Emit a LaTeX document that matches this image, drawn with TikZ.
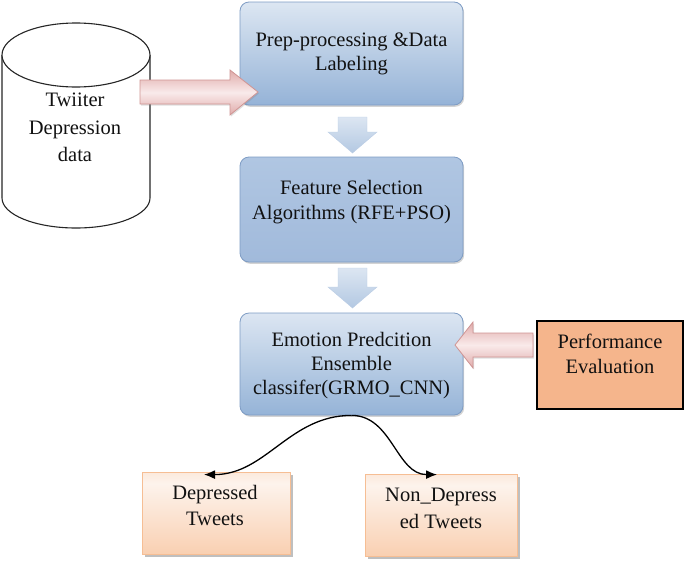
\documentclass[tikz,border=0pt]{standalone}
\usepackage{fontspec}
\setmainfont{Liberation Serif}
\usetikzlibrary{shadows,arrows.meta,calc}
\definecolor{txtc}{HTML}{111111}
\definecolor{boxTop}{HTML}{DCE6F2}
\definecolor{boxBot}{HTML}{95B3D7}
\definecolor{boxMidTop}{HTML}{B0C6E2}
\definecolor{boxMidBot}{HTML}{A1BADB}
\definecolor{boxLine}{HTML}{7E9CC4}
\definecolor{dnTop}{HTML}{DCE6F2}
\definecolor{dnBot}{HTML}{B3C8E2}
\definecolor{pinkEdge}{HTML}{E0ABAA}
\definecolor{pinkMid}{HTML}{F9EAEA}
\definecolor{pinkLine}{HTML}{CF9493}
\definecolor{perfFill}{HTML}{F5B58C}
\definecolor{peach}{HTML}{F8C7A3}
\definecolor{peachLight}{HTML}{FDF3EC}
\definecolor{peachLine}{HTML}{F6BE94}
\pgfdeclareverticalshading{tweetshade}{100bp}{color(0bp)=(peach); color(25bp)=(peach!80!peachLight); color(68bp)=(peachLight); color(100bp)=(peach)}
\begin{document}
\begin{tikzpicture}[x=1pt,y=-1pt,
  txt/.style={font=\fontsize{20.5}{24}\selectfont, text=txtc, align=center, inner sep=0pt},
  bluebox/.style={draw=boxLine, line width=0.8pt, rounded corners=9pt, minimum width=223pt,
    drop shadow={shadow xshift=1.2pt, shadow yshift=-1.8pt, opacity=0.35}},
  tweetbox/.style={draw=peachLine, line width=0.8pt, shading=tweetshade, minimum height=82pt,
    drop shadow={shadow xshift=3pt, shadow yshift=-3pt, opacity=0.5}},
  pinkarrow/.style={draw=pinkLine, line width=0.8pt, top color=pinkEdge, bottom color=pinkEdge, middle color=pinkMid,
    drop shadow={shadow xshift=1pt, shadow yshift=-1.5pt, opacity=0.25}},
  dnarrow/.style={draw=dnBot!90!white, line width=0.4pt, top color=dnTop, bottom color=dnBot},
  cylline/.style={draw=black!85, line width=1.1pt},
  curvearrow/.style={draw=black, line width=1.3pt, -{Latex[length=11pt,width=9pt]}}
]
\useasboundingbox (0,0) rectangle (685,560);

% database cylinder
\draw[cylline, fill=white] (2,55) -- (2,198) .. controls (2,214.6) and (35.1,228) .. (76,228)
  .. controls (116.9,228) and (150,214.6) .. (150,198) -- (150,55);
\draw[cylline, fill=white] (76,55) ellipse [x radius=74pt, y radius=32pt];
\node[txt, font=\fontsize{20.5}{27.5}\selectfont] (twt) at (75,127.5) {Twiiter\\Depression\\data};

% blue process boxes
\node[bluebox, minimum height=103pt, top color=boxTop, bottom color=boxBot] (prep) at (351.5,53.5) {};
\node[txt] (prept) at (351.5,54) {Prep-processing \&Data\\Labeling};

\node[bluebox, minimum height=105pt, top color=boxMidTop, bottom color=boxMidBot] (feat) at (351.5,209.5) {};
\node[txt, font=\fontsize{20.5}{25}\selectfont] (featt) at (351.5,202.5) {Feature Selection\\Algorithms (RFE+PSO)};

\node[bluebox, minimum height=102pt, top color=boxTop, bottom color=boxBot] (emo) at (351.5,364) {};
\node[txt] (emot) at (351.5,366) {Emotion Predcition\\Ensemble\\classifer(GRMO\_CNN)};

% performance box
\node[draw=black, line width=1.2pt, fill=perfFill, minimum width=146pt, minimum height=88pt] (perf) at (610,365) {};
\node[txt, font=\fontsize{20.5}{25}\selectfont] (perft) at (610,354) {Performance\\Evaluation};

% output boxes
\node[tweetbox, minimum width=148pt] (dep) at (216,513) {};
\node[txt, font=\fontsize{20.5}{26}\selectfont] (dept) at (215,505) {Depressed\\Tweets};
\node[tweetbox, minimum width=152pt] (nondep) at (441,515) {};
\node[txt, font=\fontsize{20.5}{27}\selectfont] (nondept) at (441,508) {Non\_Depress\\ed Tweets};

% block arrows
\draw[pinkarrow] (140,80) -- (230,80) -- (230,70) -- (258,92) -- (230,115) -- (230,104) -- (140,104) -- cycle;
\draw[pinkarrow] (533,333) -- (473,333) -- (473,322) -- (455,345) -- (473,368) -- (473,357) -- (533,357) -- cycle;
\draw[dnarrow] (338,117) -- (367,117) -- (367,132) -- (377,132) -- (352.5,153) -- (328,132) -- (338,132) -- cycle;
\draw[dnarrow] (338,268) -- (367,268) -- (367,287) -- (377,287) -- (352.5,308) -- (328,287) -- (338,287) -- cycle;

% curved connectors
\coordinate (depin) at ($(dep.north)+(-12,3)$);
\coordinate (nondepin) at ($(nondep.north)+(-4,1)$);
\draw[curvearrow] (emo.south) to[out=180,in=0] (depin);
\draw[curvearrow] (emo.south) to[out=0,in=180] (nondepin);
\end{tikzpicture}
\end{document}
